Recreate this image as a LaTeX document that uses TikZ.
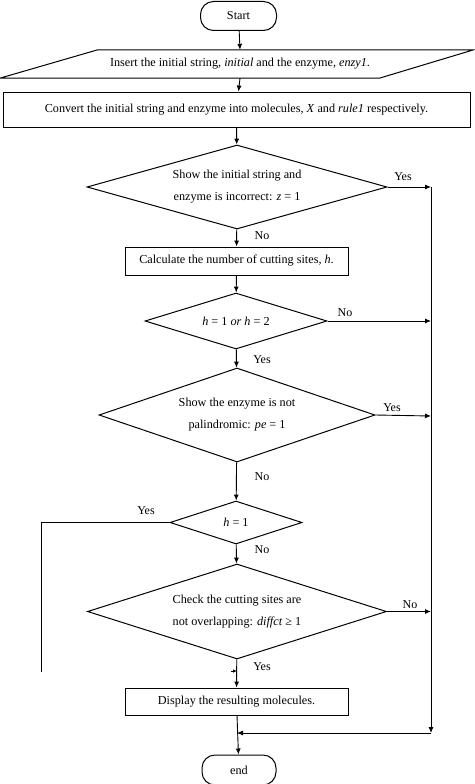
\documentclass[tikz,border=0pt]{standalone}
\usepackage{fontspec}
\setmainfont{Liberation Serif}
\usetikzlibrary{shapes.geometric,arrows.meta}
\begin{document}
\begin{tikzpicture}[x=1pt,y=-1pt,
  every node/.style={font=\fontsize{12.2}{22}\selectfont},
  line/.style={line width=0.9pt},
  arr/.style={line width=0.9pt,-{Latex[length=6pt,width=5pt]}},
  box/.style={draw,line width=0.9pt,inner sep=0pt,align=center},
  dec/.style={draw,diamond,line width=1pt,inner sep=0pt,align=center},
  term/.style={draw,line width=1pt,rounded corners=13pt,inner sep=0pt},
  lab/.style={inner sep=0pt,font=\fontsize{12}{14}\selectfont}]
\useasboundingbox (0,0) rectangle (474,784);
\node[term,minimum width=76pt,minimum height=29pt] (start) at (238.5,16) {Start};
\node[inner sep=0pt,minimum width=280pt,minimum height=28pt] (in) at (240,64) {Insert the initial string, \textit{initial} and the enzyme, \textit{enzy1}.};
\draw[line width=1pt] (97,50) -- (473,50) -- (380,78) -- (0.5,78) -- cycle;
\node[box,minimum width=467pt,minimum height=35pt] (conv) at (236.5,109.5) {Convert the initial string and enzyme into molecules, \textit{X} and \textit{rule1} respectively.};
\node[dec,aspect=3.57,minimum width=300pt,minimum height=84pt] (d1) at (237,187) {Show the initial string and\\enzyme is incorrect: \textit{z} = 1};
\node[box,minimum width=223pt,minimum height=28pt] (calc) at (236.5,261) {Calculate the number of cutting sites, \textit{h}.};
\node[dec,aspect=3.25,minimum width=182pt,minimum height=56pt] (d2) at (236,321) {\textit{h} = 1 \textit{or} \textit{h} = 2};
\node[dec,aspect=2.94,minimum width=276pt,minimum height=94pt] (d3) at (237,415) {Show the enzyme is not\\palindromic: \textit{pe} = 1};
\node[dec,aspect=3.07,minimum width=132pt,minimum height=43pt] (d4) at (236,522.5) {\textit{h} = 1};
\node[dec,aspect=3.15,minimum width=299pt,minimum height=95pt] (d5) at (237,611.5) {Check the cutting sites are\\not overlapping: \textit{diffct} ≥ 1};
\node[box,minimum width=223pt,minimum height=27pt] (disp) at (236.5,701.5) {Display the resulting molecules.};
\node[term,minimum width=74pt,minimum height=30pt] (end) at (239,770) {end};
\coordinate (r1) at (431,187);
\coordinate (r2) at (431,321);
\coordinate (r3) at (431,416);
\coordinate (r4) at (431,611.5);
\coordinate (rb) at (431,733);
\coordinate (m) at (237,733);
\coordinate (ly) at (41,672);
\coordinate (lt) at (231,671);
\coordinate (lh) at (237,671);
% main flow
\draw[arr] (start) -- (in.north);
\draw[arr] (in.south) -- (conv);
\draw[arr] (conv) -- (d1);
\draw[arr] (d1) -- (calc);
\draw[arr] (calc) -- (d2);
\draw[arr] (d2) -- (d3);
\draw[arr] (d3) -- (d4);
\draw[arr] (d4) -- (d5);
\draw[arr] (d5) -- (disp);
\draw[arr] (disp) -- (end);
% right bus
\draw[arr] (d1.east) -- (r1);
\draw[arr] (d2.east) -- (r2);
\draw[arr] (d3.east) -- (r3);
\draw[arr] (d5.east) -- (r4);
\draw[arr] (r1) -- (rb);
\draw[arr] (rb) -- (m);
% left branch
\draw[line] (d4.west) -| (ly);
\draw[line,-{Latex[length=4pt,width=3.5pt]}] (lt) -- (lh);
% labels
\node[lab] at (403,177) {Yes};
\node[lab] at (262,236) {No};
\node[lab] at (345,313) {No};
\node[lab] at (262,360) {Yes};
\node[lab] at (392,408) {Yes};
\node[lab] at (262,477) {No};
\node[lab] at (146,511) {Yes};
\node[lab] at (262,550) {No};
\node[lab] at (410,605) {No};
\node[lab] at (262,667) {Yes};
\end{tikzpicture}
\end{document}
